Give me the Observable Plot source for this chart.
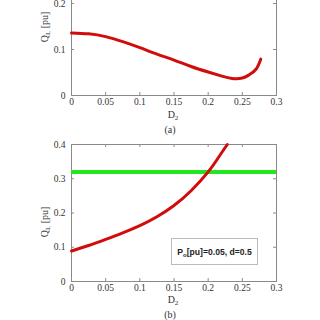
<!DOCTYPE html>
<html>
<head>
<meta charset="utf-8">
<script src="https://cdn.jsdelivr.net/npm/d3@7"></script>
<script src="https://cdn.jsdelivr.net/npm/@observablehq/plot@0.6"></script>
<style>
  html, body { margin: 0; padding: 0; background: #fff; }
  #wrap { position: relative; width: 320px; height: 320px; overflow: hidden; background: #fff; font-family: "Liberation Serif", "Times New Roman", serif; color: #333; }
  #wrap svg { position: absolute; left: 0; }
  .lbl { position: absolute; font-size: 10px; white-space: nowrap; line-height: 1; }
  .rot { transform: translate(-50%, -50%) rotate(-90deg); }
  .ctr { transform: translate(-50%, -50%); }
  sub { font-size: 0.7em; vertical-align: -0.35em; line-height: 0; }
  #legend { position: absolute; left: 171px; top: 238px; width: 87px; height: 27px; border: 1px solid #bbb; background: #fff;
    font-family: "Liberation Sans", Arial, sans-serif; font-weight: bold; font-size: 8.6px; color: #222;
    display: flex; align-items: center; justify-content: center; box-sizing: border-box; }
</style>
</head>
<body>
<div id="wrap"></div>
<script>
// ---- data ----
const xTicks = [0, 0.05, 0.1, 0.15, 0.2, 0.25, 0.3];
const yTicksA = [0, 0.1, 0.2];
const yTicksB = [0, 0.1, 0.2, 0.3, 0.4];

const d2A = [0, 0.025, 0.05, 0.075, 0.1, 0.125, 0.15, 0.175, 0.2, 0.22, 0.235, 0.25, 0.26, 0.27, 0.277];
const qlA = [0.136, 0.134, 0.128, 0.117, 0.104, 0.090, 0.077, 0.063, 0.051, 0.042, 0.037, 0.038, 0.045, 0.057, 0.079];

const d2B = [0, 0.025, 0.05, 0.075, 0.1, 0.125, 0.15, 0.175, 0.2, 0.215, 0.228];
const qlB = [0.089, 0.105, 0.123, 0.142, 0.163, 0.189, 0.222, 0.265, 0.32, 0.362, 0.4];

const qLimit = 0.32;
const legendText = "[pu]=0.05, d=0.5";

// ---- styling ----
const red = "#d20b0b";
const green = "#22e61e";
const frameColor = "#8a8a8a";
const font = "\"Liberation Serif\", \"Times New Roman\", serif";

function panel(xs, ys, yDomain, yTicks, plotH, mTop, mBottom, extra) {
  const plotW = 205;
  const data = xs.map((x, i) => ({x, y: ys[i]}));
  return Plot.plot({
    width: 320,
    height: mTop + plotH + mBottom,
    marginLeft: 71,
    marginRight: 44,
    marginTop: mTop,
    marginBottom: mBottom,
    style: {fontFamily: font, fontSize: "9.5px", color: "#333", background: "transparent", overflow: "visible"},
    x: {domain: [0, 0.3]},
    y: {domain: yDomain},
    marks: [
      Plot.frame({stroke: frameColor}),
      Plot.tickX(xTicks, {x: d => d, insetTop: plotH - 3, stroke: frameColor}),
      Plot.tickX(xTicks, {x: d => d, insetBottom: plotH - 3, stroke: frameColor}),
      Plot.tickY(yTicks, {y: d => d, insetRight: plotW - 3, stroke: frameColor}),
      Plot.tickY(yTicks, {y: d => d, insetLeft: plotW - 3, stroke: frameColor}),
      Plot.axisX(xTicks, {tickSize: 0, tickPadding: 3, tickFormat: d => String(d), label: null, fill: "#333"}),
      Plot.axisY(yTicks, {tickSize: 0, tickPadding: 6, tickFormat: d => String(d), label: null, fill: "#333"}),
      ...extra,
      Plot.line(data, {x: "x", y: "y", stroke: red, strokeWidth: 3, curve: "natural"})
    ]
  });
}

const wrap = document.getElementById("wrap");

const topPanel = panel(d2A, qlA, [0, 0.3], yTicksA, 138, 10, 40, []);
topPanel.style.top = "-53px";
wrap.appendChild(topPanel);

const bottomPanel = panel(d2B, qlB, [0, 0.4], yTicksB, 137, 10, 20,
  [Plot.ruleY([qLimit], {stroke: green, strokeWidth: 4})]);
bottomPanel.style.top = "134px";
wrap.appendChild(bottomPanel);

function addLabel(html, x, y, cls) {
  const d = document.createElement("div");
  d.className = "lbl " + cls;
  d.style.left = x + "px";
  d.style.top = y + "px";
  d.innerHTML = html;
  wrap.appendChild(d);
}
addLabel("Q<sub>L</sub> [pu]", 45, 27, "rot");
addLabel("Q<sub>L</sub> [pu]", 45, 222, "rot");
addLabel("D<sub>2</sub>", 173, 115, "ctr");
addLabel("D<sub>2</sub>", 173, 300, "ctr");
addLabel("(a)", 170, 130, "ctr");
addLabel("(b)", 170, 315, "ctr");

const lg = document.createElement("div");
lg.id = "legend";
lg.innerHTML = "<span>P<sub>o</sub>" + legendText + "</span>";
wrap.appendChild(lg);
</script>
</body>
</html>
